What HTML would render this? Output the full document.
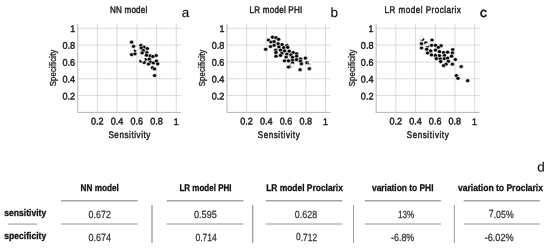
<!DOCTYPE html>
<html><head><meta charset="utf-8"><title>Model comparison</title>
<style>
html,body{margin:0;padding:0;background:#fff;}
svg{display:block;font-family:"Liberation Sans", sans-serif;}
</style></head><body>
<svg width="550" height="249" viewBox="0 0 550 249">
<rect width="550" height="249" fill="#fff"/>
<line x1="97.46" y1="24" x2="97.46" y2="112.4" stroke="#c4c4c4" stroke-width="0.6"/>
<line x1="117.17" y1="24" x2="117.17" y2="112.4" stroke="#c4c4c4" stroke-width="0.6"/>
<line x1="136.88" y1="24" x2="136.88" y2="112.4" stroke="#c4c4c4" stroke-width="0.6"/>
<line x1="156.59" y1="24" x2="156.59" y2="112.4" stroke="#c4c4c4" stroke-width="0.6"/>
<line x1="176.3" y1="24" x2="176.3" y2="112.4" stroke="#c4c4c4" stroke-width="0.6"/>
<line x1="77.75" y1="28.3" x2="181.2" y2="28.3" stroke="#c4c4c4" stroke-width="0.6"/>
<line x1="77.75" y1="45.12" x2="181.2" y2="45.12" stroke="#c4c4c4" stroke-width="0.6"/>
<line x1="77.75" y1="61.94" x2="181.2" y2="61.94" stroke="#c4c4c4" stroke-width="0.6"/>
<line x1="77.75" y1="78.76" x2="181.2" y2="78.76" stroke="#c4c4c4" stroke-width="0.6"/>
<line x1="77.75" y1="95.58" x2="181.2" y2="95.58" stroke="#c4c4c4" stroke-width="0.6"/>
<line x1="77.75" y1="24" x2="77.75" y2="112.4" stroke="#b4b4b4" stroke-width="1"/>
<line x1="77.25" y1="112.4" x2="181.2" y2="112.4" stroke="#b4b4b4" stroke-width="1"/>
<text x="75.1" y="32.0" font-size="9.6" font-weight="normal" fill="#222" stroke="#222" stroke-width="0.45" text-anchor="end" textLength="4.9" lengthAdjust="spacingAndGlyphs" transform="rotate(0.03 75.1 32.0)">1</text>
<text x="75.1" y="48.85" font-size="9.6" font-weight="normal" fill="#222" stroke="#222" stroke-width="0.45" text-anchor="end" textLength="12.6" lengthAdjust="spacingAndGlyphs" transform="rotate(0.03 75.1 48.85)">0.8</text>
<text x="75.1" y="65.7" font-size="9.6" font-weight="normal" fill="#222" stroke="#222" stroke-width="0.45" text-anchor="end" textLength="12.6" lengthAdjust="spacingAndGlyphs" transform="rotate(0.03 75.1 65.7)">0.6</text>
<text x="75.1" y="82.55" font-size="9.6" font-weight="normal" fill="#222" stroke="#222" stroke-width="0.45" text-anchor="end" textLength="12.6" lengthAdjust="spacingAndGlyphs" transform="rotate(0.03 75.1 82.55)">0.4</text>
<text x="75.1" y="99.4" font-size="9.6" font-weight="normal" fill="#222" stroke="#222" stroke-width="0.45" text-anchor="end" textLength="12.6" lengthAdjust="spacingAndGlyphs" transform="rotate(0.03 75.1 99.4)">0.2</text>
<text x="97.36" y="124.6" font-size="9.6" font-weight="normal" fill="#222" stroke="#222" stroke-width="0.45" text-anchor="middle" textLength="12.6" lengthAdjust="spacingAndGlyphs" transform="rotate(0.03 97.36 124.6)">0.2</text>
<text x="117.07" y="124.6" font-size="9.6" font-weight="normal" fill="#222" stroke="#222" stroke-width="0.45" text-anchor="middle" textLength="12.6" lengthAdjust="spacingAndGlyphs" transform="rotate(0.03 117.07 124.6)">0.4</text>
<text x="136.78" y="124.6" font-size="9.6" font-weight="normal" fill="#222" stroke="#222" stroke-width="0.45" text-anchor="middle" textLength="12.6" lengthAdjust="spacingAndGlyphs" transform="rotate(0.03 136.78 124.6)">0.6</text>
<text x="156.49" y="124.6" font-size="9.6" font-weight="normal" fill="#222" stroke="#222" stroke-width="0.45" text-anchor="middle" textLength="12.6" lengthAdjust="spacingAndGlyphs" transform="rotate(0.03 156.49 124.6)">0.8</text>
<text x="176.2" y="124.6" font-size="9.6" font-weight="normal" fill="#222" stroke="#222" stroke-width="0.45" text-anchor="middle" textLength="4.9" lengthAdjust="spacingAndGlyphs" transform="rotate(0.03 176.2 124.6)">1</text>
<text transform="translate(109.9 13) rotate(0.03) scale(0.84 1)" font-size="9.6" font-weight="normal" fill="#222" stroke="#222" stroke-width="0.45" text-anchor="start" textLength="44.52" lengthAdjust="spacing">NN model</text>
<text transform="translate(108.39999999999999 137.9) rotate(0.03) scale(0.84 1)" font-size="9.6" font-weight="normal" fill="#222" stroke="#222" stroke-width="0.45" text-anchor="start" textLength="50.0" lengthAdjust="spacing">Sensitivity</text>
<text transform="translate(56.2 86.2) rotate(-90) scale(0.8 1)" font-size="9.6" font-weight="normal" fill="#222" stroke="#222" stroke-width="0.35" text-anchor="start" textLength="45.75" lengthAdjust="spacing">Specificity</text>
<text x="181.8" y="16.9" font-size="13.5" font-weight="normal" fill="#111" stroke="#111" stroke-width="0.15" text-anchor="start" transform="rotate(0.03 181.8 16.9)">a</text>
<ellipse cx="131.6" cy="42.2" rx="2.05" ry="1.85" fill="#000" stroke="#fff" stroke-width="0.5"/>
<ellipse cx="133.6" cy="46.4" rx="2.05" ry="1.85" fill="#000" stroke="#fff" stroke-width="0.5"/>
<ellipse cx="140.9" cy="45.4" rx="2.05" ry="1.85" fill="#000" stroke="#fff" stroke-width="0.5"/>
<ellipse cx="144.1" cy="47.2" rx="2.05" ry="1.85" fill="#000" stroke="#fff" stroke-width="0.5"/>
<ellipse cx="147.3" cy="48.6" rx="2.05" ry="1.85" fill="#000" stroke="#fff" stroke-width="0.5"/>
<ellipse cx="141.3" cy="48" rx="2.05" ry="1.85" fill="#000" stroke="#fff" stroke-width="0.5"/>
<ellipse cx="143.3" cy="50.5" rx="2.05" ry="1.85" fill="#000" stroke="#fff" stroke-width="0.5"/>
<ellipse cx="142.1" cy="52.9" rx="2.05" ry="1.85" fill="#000" stroke="#fff" stroke-width="0.5"/>
<ellipse cx="146.9" cy="52.5" rx="2.05" ry="1.85" fill="#000" stroke="#fff" stroke-width="0.5"/>
<ellipse cx="131.6" cy="54.6" rx="2.05" ry="1.85" fill="#000" stroke="#fff" stroke-width="0.5"/>
<ellipse cx="135" cy="53.8" rx="2.05" ry="1.85" fill="#000" stroke="#fff" stroke-width="0.5"/>
<ellipse cx="135.6" cy="50.5" rx="2.05" ry="1.85" fill="#000" stroke="#fff" stroke-width="0.5"/>
<ellipse cx="156.1" cy="55.5" rx="2.05" ry="1.85" fill="#000" stroke="#fff" stroke-width="0.5"/>
<ellipse cx="150.1" cy="55.8" rx="2.05" ry="1.85" fill="#000" stroke="#fff" stroke-width="0.5"/>
<ellipse cx="152.9" cy="56.5" rx="2.05" ry="1.85" fill="#000" stroke="#fff" stroke-width="0.5"/>
<ellipse cx="146.5" cy="55.2" rx="2.05" ry="1.85" fill="#000" stroke="#fff" stroke-width="0.5"/>
<ellipse cx="145.3" cy="59.6" rx="2.05" ry="1.85" fill="#000" stroke="#fff" stroke-width="0.5"/>
<ellipse cx="149.3" cy="59.2" rx="2.05" ry="1.85" fill="#000" stroke="#fff" stroke-width="0.5"/>
<ellipse cx="144.1" cy="62.4" rx="2.05" ry="1.85" fill="#000" stroke="#fff" stroke-width="0.5"/>
<ellipse cx="140.9" cy="61.1" rx="2.05" ry="1.85" fill="#000" stroke="#fff" stroke-width="0.5"/>
<ellipse cx="150.5" cy="62" rx="2.05" ry="1.85" fill="#000" stroke="#fff" stroke-width="0.5"/>
<ellipse cx="148.5" cy="64.1" rx="2.05" ry="1.85" fill="#000" stroke="#fff" stroke-width="0.5"/>
<ellipse cx="153.3" cy="62.9" rx="2.05" ry="1.85" fill="#000" stroke="#fff" stroke-width="0.5"/>
<ellipse cx="156.5" cy="61.1" rx="2.05" ry="1.85" fill="#000" stroke="#fff" stroke-width="0.5"/>
<ellipse cx="157.7" cy="63.8" rx="2.05" ry="1.85" fill="#000" stroke="#fff" stroke-width="0.5"/>
<ellipse cx="152.5" cy="67.7" rx="2.05" ry="1.85" fill="#000" stroke="#fff" stroke-width="0.5"/>
<ellipse cx="154.5" cy="68.9" rx="2.05" ry="1.85" fill="#000" stroke="#fff" stroke-width="0.5"/>
<ellipse cx="154.6" cy="75.5" rx="2.05" ry="1.85" fill="#000" stroke="#fff" stroke-width="0.5"/>
<ellipse cx="136.5" cy="48.5" rx="1.95" ry="1.7" fill="#fff" stroke="#cfcfcf" stroke-width="0.45"/>
<ellipse cx="138.2" cy="51.5" rx="1.95" ry="1.7" fill="#fff" stroke="#cfcfcf" stroke-width="0.45"/>
<ellipse cx="138.8" cy="55" rx="1.95" ry="1.7" fill="#fff" stroke="#cfcfcf" stroke-width="0.45"/>
<ellipse cx="140.5" cy="57.7" rx="1.95" ry="1.7" fill="#fff" stroke="#cfcfcf" stroke-width="0.45"/>
<ellipse cx="142.8" cy="59.8" rx="1.95" ry="1.7" fill="#fff" stroke="#cfcfcf" stroke-width="0.45"/>
<line x1="246.71" y1="24" x2="246.71" y2="112.4" stroke="#c4c4c4" stroke-width="0.6"/>
<line x1="266.42" y1="24" x2="266.42" y2="112.4" stroke="#c4c4c4" stroke-width="0.6"/>
<line x1="286.13" y1="24" x2="286.13" y2="112.4" stroke="#c4c4c4" stroke-width="0.6"/>
<line x1="305.84" y1="24" x2="305.84" y2="112.4" stroke="#c4c4c4" stroke-width="0.6"/>
<line x1="325.55" y1="24" x2="325.55" y2="112.4" stroke="#c4c4c4" stroke-width="0.6"/>
<line x1="227.0" y1="28.3" x2="330.45" y2="28.3" stroke="#c4c4c4" stroke-width="0.6"/>
<line x1="227.0" y1="45.12" x2="330.45" y2="45.12" stroke="#c4c4c4" stroke-width="0.6"/>
<line x1="227.0" y1="61.94" x2="330.45" y2="61.94" stroke="#c4c4c4" stroke-width="0.6"/>
<line x1="227.0" y1="78.76" x2="330.45" y2="78.76" stroke="#c4c4c4" stroke-width="0.6"/>
<line x1="227.0" y1="95.58" x2="330.45" y2="95.58" stroke="#c4c4c4" stroke-width="0.6"/>
<line x1="227.0" y1="24" x2="227.0" y2="112.4" stroke="#b4b4b4" stroke-width="1"/>
<line x1="226.5" y1="112.4" x2="330.45" y2="112.4" stroke="#b4b4b4" stroke-width="1"/>
<text x="224.35" y="32.0" font-size="9.6" font-weight="normal" fill="#222" stroke="#222" stroke-width="0.45" text-anchor="end" textLength="4.9" lengthAdjust="spacingAndGlyphs" transform="rotate(0.03 224.35 32.0)">1</text>
<text x="224.35" y="48.85" font-size="9.6" font-weight="normal" fill="#222" stroke="#222" stroke-width="0.45" text-anchor="end" textLength="12.6" lengthAdjust="spacingAndGlyphs" transform="rotate(0.03 224.35 48.85)">0.8</text>
<text x="224.35" y="65.7" font-size="9.6" font-weight="normal" fill="#222" stroke="#222" stroke-width="0.45" text-anchor="end" textLength="12.6" lengthAdjust="spacingAndGlyphs" transform="rotate(0.03 224.35 65.7)">0.6</text>
<text x="224.35" y="82.55" font-size="9.6" font-weight="normal" fill="#222" stroke="#222" stroke-width="0.45" text-anchor="end" textLength="12.6" lengthAdjust="spacingAndGlyphs" transform="rotate(0.03 224.35 82.55)">0.4</text>
<text x="224.35" y="99.4" font-size="9.6" font-weight="normal" fill="#222" stroke="#222" stroke-width="0.45" text-anchor="end" textLength="12.6" lengthAdjust="spacingAndGlyphs" transform="rotate(0.03 224.35 99.4)">0.2</text>
<text x="246.61" y="124.6" font-size="9.6" font-weight="normal" fill="#222" stroke="#222" stroke-width="0.45" text-anchor="middle" textLength="12.6" lengthAdjust="spacingAndGlyphs" transform="rotate(0.03 246.61 124.6)">0.2</text>
<text x="266.32" y="124.6" font-size="9.6" font-weight="normal" fill="#222" stroke="#222" stroke-width="0.45" text-anchor="middle" textLength="12.6" lengthAdjust="spacingAndGlyphs" transform="rotate(0.03 266.32 124.6)">0.4</text>
<text x="286.03" y="124.6" font-size="9.6" font-weight="normal" fill="#222" stroke="#222" stroke-width="0.45" text-anchor="middle" textLength="12.6" lengthAdjust="spacingAndGlyphs" transform="rotate(0.03 286.03 124.6)">0.6</text>
<text x="305.74" y="124.6" font-size="9.6" font-weight="normal" fill="#222" stroke="#222" stroke-width="0.45" text-anchor="middle" textLength="12.6" lengthAdjust="spacingAndGlyphs" transform="rotate(0.03 305.74 124.6)">0.8</text>
<text x="325.45" y="124.6" font-size="9.6" font-weight="normal" fill="#222" stroke="#222" stroke-width="0.45" text-anchor="middle" textLength="4.9" lengthAdjust="spacingAndGlyphs" transform="rotate(0.03 325.45 124.6)">1</text>
<text transform="translate(249.5 13) rotate(0.03) scale(0.84 1)" font-size="9.6" font-weight="normal" fill="#222" stroke="#222" stroke-width="0.45" text-anchor="start" textLength="62.86" lengthAdjust="spacing">LR model PHI</text>
<text transform="translate(257.70000000000005 137.9) rotate(0.03) scale(0.84 1)" font-size="9.6" font-weight="normal" fill="#222" stroke="#222" stroke-width="0.45" text-anchor="start" textLength="50.0" lengthAdjust="spacing">Sensitivity</text>
<text transform="translate(205.45 86.2) rotate(-90) scale(0.8 1)" font-size="9.6" font-weight="normal" fill="#222" stroke="#222" stroke-width="0.35" text-anchor="start" textLength="45.75" lengthAdjust="spacing">Specificity</text>
<text x="330.6" y="16.9" font-size="13.5" font-weight="normal" fill="#111" stroke="#111" stroke-width="0.15" text-anchor="start" transform="rotate(0.03 330.6 16.9)">b</text>
<ellipse cx="265.7" cy="49.3" rx="2.05" ry="1.85" fill="#000" stroke="#fff" stroke-width="0.5"/>
<ellipse cx="268.4" cy="40" rx="2.05" ry="1.85" fill="#000" stroke="#fff" stroke-width="0.5"/>
<ellipse cx="272.5" cy="37.2" rx="2.05" ry="1.85" fill="#000" stroke="#fff" stroke-width="0.5"/>
<ellipse cx="276" cy="37.7" rx="2.05" ry="1.85" fill="#000" stroke="#fff" stroke-width="0.5"/>
<ellipse cx="278.6" cy="39.3" rx="2.05" ry="1.85" fill="#000" stroke="#fff" stroke-width="0.5"/>
<ellipse cx="270.9" cy="42" rx="2.05" ry="1.85" fill="#000" stroke="#fff" stroke-width="0.5"/>
<ellipse cx="274.1" cy="41.6" rx="2.05" ry="1.85" fill="#000" stroke="#fff" stroke-width="0.5"/>
<ellipse cx="278.1" cy="43.7" rx="2.05" ry="1.85" fill="#000" stroke="#fff" stroke-width="0.5"/>
<ellipse cx="274.1" cy="45.3" rx="2.05" ry="1.85" fill="#000" stroke="#fff" stroke-width="0.5"/>
<ellipse cx="270.5" cy="46.5" rx="2.05" ry="1.85" fill="#000" stroke="#fff" stroke-width="0.5"/>
<ellipse cx="282.1" cy="44.5" rx="2.05" ry="1.85" fill="#000" stroke="#fff" stroke-width="0.5"/>
<ellipse cx="286.9" cy="45.6" rx="2.05" ry="1.85" fill="#000" stroke="#fff" stroke-width="0.5"/>
<ellipse cx="278.9" cy="46.9" rx="2.05" ry="1.85" fill="#000" stroke="#fff" stroke-width="0.5"/>
<ellipse cx="283.7" cy="47.7" rx="2.05" ry="1.85" fill="#000" stroke="#fff" stroke-width="0.5"/>
<ellipse cx="287.7" cy="47.3" rx="2.05" ry="1.85" fill="#000" stroke="#fff" stroke-width="0.5"/>
<ellipse cx="275.7" cy="50.1" rx="2.05" ry="1.85" fill="#000" stroke="#fff" stroke-width="0.5"/>
<ellipse cx="280.5" cy="50.1" rx="2.05" ry="1.85" fill="#000" stroke="#fff" stroke-width="0.5"/>
<ellipse cx="284.5" cy="50.9" rx="2.05" ry="1.85" fill="#000" stroke="#fff" stroke-width="0.5"/>
<ellipse cx="289.3" cy="51.2" rx="2.05" ry="1.85" fill="#000" stroke="#fff" stroke-width="0.5"/>
<ellipse cx="293.3" cy="52.5" rx="2.05" ry="1.85" fill="#000" stroke="#fff" stroke-width="0.5"/>
<ellipse cx="296.6" cy="53.8" rx="2.05" ry="1.85" fill="#000" stroke="#fff" stroke-width="0.5"/>
<ellipse cx="276" cy="52.5" rx="2.05" ry="1.85" fill="#000" stroke="#fff" stroke-width="0.5"/>
<ellipse cx="281.8" cy="53.3" rx="2.05" ry="1.85" fill="#000" stroke="#fff" stroke-width="0.5"/>
<ellipse cx="286.9" cy="54.1" rx="2.05" ry="1.85" fill="#000" stroke="#fff" stroke-width="0.5"/>
<ellipse cx="290.9" cy="54.9" rx="2.05" ry="1.85" fill="#000" stroke="#fff" stroke-width="0.5"/>
<ellipse cx="276" cy="56.2" rx="2.05" ry="1.85" fill="#000" stroke="#fff" stroke-width="0.5"/>
<ellipse cx="280.5" cy="55.4" rx="2.05" ry="1.85" fill="#000" stroke="#fff" stroke-width="0.5"/>
<ellipse cx="286.1" cy="57" rx="2.05" ry="1.85" fill="#000" stroke="#fff" stroke-width="0.5"/>
<ellipse cx="292.5" cy="57.3" rx="2.05" ry="1.85" fill="#000" stroke="#fff" stroke-width="0.5"/>
<ellipse cx="296.6" cy="56.2" rx="2.05" ry="1.85" fill="#000" stroke="#fff" stroke-width="0.5"/>
<ellipse cx="300.6" cy="58.9" rx="2.05" ry="1.85" fill="#000" stroke="#fff" stroke-width="0.5"/>
<ellipse cx="305.4" cy="58.1" rx="2.05" ry="1.85" fill="#000" stroke="#fff" stroke-width="0.5"/>
<ellipse cx="284.5" cy="60.8" rx="2.05" ry="1.85" fill="#000" stroke="#fff" stroke-width="0.5"/>
<ellipse cx="288.5" cy="60.8" rx="2.05" ry="1.85" fill="#000" stroke="#fff" stroke-width="0.5"/>
<ellipse cx="292.5" cy="60.2" rx="2.05" ry="1.85" fill="#000" stroke="#fff" stroke-width="0.5"/>
<ellipse cx="296.6" cy="59.7" rx="2.05" ry="1.85" fill="#000" stroke="#fff" stroke-width="0.5"/>
<ellipse cx="300.6" cy="61.3" rx="2.05" ry="1.85" fill="#000" stroke="#fff" stroke-width="0.5"/>
<ellipse cx="292.5" cy="62.9" rx="2.05" ry="1.85" fill="#000" stroke="#fff" stroke-width="0.5"/>
<ellipse cx="301.4" cy="63.7" rx="2.05" ry="1.85" fill="#000" stroke="#fff" stroke-width="0.5"/>
<ellipse cx="307" cy="62.7" rx="2.05" ry="1.85" fill="#000" stroke="#fff" stroke-width="0.5"/>
<ellipse cx="309.4" cy="62.7" rx="2.05" ry="1.85" fill="#000" stroke="#fff" stroke-width="0.5"/>
<ellipse cx="291" cy="65.8" rx="2.05" ry="1.85" fill="#000" stroke="#fff" stroke-width="0.5"/>
<ellipse cx="288.5" cy="67.1" rx="2.05" ry="1.85" fill="#000" stroke="#fff" stroke-width="0.5"/>
<ellipse cx="300.1" cy="69.7" rx="2.05" ry="1.85" fill="#000" stroke="#fff" stroke-width="0.5"/>
<ellipse cx="309.4" cy="68.7" rx="2.05" ry="1.85" fill="#000" stroke="#fff" stroke-width="0.5"/>
<ellipse cx="310.6" cy="62.4" rx="1.95" ry="1.7" fill="#fff" stroke="#cfcfcf" stroke-width="0.45"/>
<ellipse cx="292.3" cy="65.3" rx="1.95" ry="1.7" fill="#fff" stroke="#cfcfcf" stroke-width="0.45"/>
<line x1="395.83" y1="24" x2="395.83" y2="112.4" stroke="#c4c4c4" stroke-width="0.6"/>
<line x1="415.54" y1="24" x2="415.54" y2="112.4" stroke="#c4c4c4" stroke-width="0.6"/>
<line x1="435.25" y1="24" x2="435.25" y2="112.4" stroke="#c4c4c4" stroke-width="0.6"/>
<line x1="454.96" y1="24" x2="454.96" y2="112.4" stroke="#c4c4c4" stroke-width="0.6"/>
<line x1="474.67" y1="24" x2="474.67" y2="112.4" stroke="#c4c4c4" stroke-width="0.6"/>
<line x1="376.12" y1="28.3" x2="479.57" y2="28.3" stroke="#c4c4c4" stroke-width="0.6"/>
<line x1="376.12" y1="45.12" x2="479.57" y2="45.12" stroke="#c4c4c4" stroke-width="0.6"/>
<line x1="376.12" y1="61.94" x2="479.57" y2="61.94" stroke="#c4c4c4" stroke-width="0.6"/>
<line x1="376.12" y1="78.76" x2="479.57" y2="78.76" stroke="#c4c4c4" stroke-width="0.6"/>
<line x1="376.12" y1="95.58" x2="479.57" y2="95.58" stroke="#c4c4c4" stroke-width="0.6"/>
<line x1="376.12" y1="24" x2="376.12" y2="112.4" stroke="#b4b4b4" stroke-width="1"/>
<line x1="375.62" y1="112.4" x2="479.57" y2="112.4" stroke="#b4b4b4" stroke-width="1"/>
<text x="373.47" y="32.0" font-size="9.6" font-weight="normal" fill="#222" stroke="#222" stroke-width="0.45" text-anchor="end" textLength="4.9" lengthAdjust="spacingAndGlyphs" transform="rotate(0.03 373.47 32.0)">1</text>
<text x="373.47" y="48.85" font-size="9.6" font-weight="normal" fill="#222" stroke="#222" stroke-width="0.45" text-anchor="end" textLength="12.6" lengthAdjust="spacingAndGlyphs" transform="rotate(0.03 373.47 48.85)">0.8</text>
<text x="373.47" y="65.7" font-size="9.6" font-weight="normal" fill="#222" stroke="#222" stroke-width="0.45" text-anchor="end" textLength="12.6" lengthAdjust="spacingAndGlyphs" transform="rotate(0.03 373.47 65.7)">0.6</text>
<text x="373.47" y="82.55" font-size="9.6" font-weight="normal" fill="#222" stroke="#222" stroke-width="0.45" text-anchor="end" textLength="12.6" lengthAdjust="spacingAndGlyphs" transform="rotate(0.03 373.47 82.55)">0.4</text>
<text x="373.47" y="99.4" font-size="9.6" font-weight="normal" fill="#222" stroke="#222" stroke-width="0.45" text-anchor="end" textLength="12.6" lengthAdjust="spacingAndGlyphs" transform="rotate(0.03 373.47 99.4)">0.2</text>
<text x="395.73" y="124.6" font-size="9.6" font-weight="normal" fill="#222" stroke="#222" stroke-width="0.45" text-anchor="middle" textLength="12.6" lengthAdjust="spacingAndGlyphs" transform="rotate(0.03 395.73 124.6)">0.2</text>
<text x="415.44" y="124.6" font-size="9.6" font-weight="normal" fill="#222" stroke="#222" stroke-width="0.45" text-anchor="middle" textLength="12.6" lengthAdjust="spacingAndGlyphs" transform="rotate(0.03 415.44 124.6)">0.4</text>
<text x="435.15" y="124.6" font-size="9.6" font-weight="normal" fill="#222" stroke="#222" stroke-width="0.45" text-anchor="middle" textLength="12.6" lengthAdjust="spacingAndGlyphs" transform="rotate(0.03 435.15 124.6)">0.6</text>
<text x="454.86" y="124.6" font-size="9.6" font-weight="normal" fill="#222" stroke="#222" stroke-width="0.45" text-anchor="middle" textLength="12.6" lengthAdjust="spacingAndGlyphs" transform="rotate(0.03 454.86 124.6)">0.8</text>
<text x="474.57" y="124.6" font-size="9.6" font-weight="normal" fill="#222" stroke="#222" stroke-width="0.45" text-anchor="middle" textLength="4.9" lengthAdjust="spacingAndGlyphs" transform="rotate(0.03 474.57 124.6)">1</text>
<text transform="translate(384.6 13) rotate(0.03) scale(0.84 1)" font-size="9.6" font-weight="normal" fill="#222" stroke="#222" stroke-width="0.45" text-anchor="start" textLength="90.83" lengthAdjust="spacing">LR model Proclarix</text>
<text transform="translate(406.70000000000005 137.9) rotate(0.03) scale(0.84 1)" font-size="9.6" font-weight="normal" fill="#222" stroke="#222" stroke-width="0.45" text-anchor="start" textLength="50.0" lengthAdjust="spacing">Sensitivity</text>
<text transform="translate(354.57 86.2) rotate(-90) scale(0.8 1)" font-size="9.6" font-weight="normal" fill="#222" stroke="#222" stroke-width="0.35" text-anchor="start" textLength="45.75" lengthAdjust="spacing">Specificity</text>
<text x="480" y="16.9" font-size="13.5" font-weight="normal" fill="#111" stroke="#111" stroke-width="0.55" text-anchor="start" transform="rotate(0.03 480 16.9)">c</text>
<ellipse cx="422.4" cy="39.3" rx="2.05" ry="1.85" fill="#000" stroke="#fff" stroke-width="0.5"/>
<ellipse cx="421.5" cy="43.7" rx="2.05" ry="1.85" fill="#000" stroke="#fff" stroke-width="0.5"/>
<ellipse cx="421.5" cy="48" rx="2.05" ry="1.85" fill="#000" stroke="#fff" stroke-width="0.5"/>
<ellipse cx="432" cy="40" rx="2.05" ry="1.85" fill="#000" stroke="#fff" stroke-width="0.5"/>
<ellipse cx="425.9" cy="42.9" rx="2.05" ry="1.85" fill="#000" stroke="#fff" stroke-width="0.5"/>
<ellipse cx="431.5" cy="45.3" rx="2.05" ry="1.85" fill="#000" stroke="#fff" stroke-width="0.5"/>
<ellipse cx="435.5" cy="45.3" rx="2.05" ry="1.85" fill="#000" stroke="#fff" stroke-width="0.5"/>
<ellipse cx="441.1" cy="45.7" rx="2.05" ry="1.85" fill="#000" stroke="#fff" stroke-width="0.5"/>
<ellipse cx="427.5" cy="46.1" rx="2.05" ry="1.85" fill="#000" stroke="#fff" stroke-width="0.5"/>
<ellipse cx="426.7" cy="49.3" rx="2.05" ry="1.85" fill="#000" stroke="#fff" stroke-width="0.5"/>
<ellipse cx="430.7" cy="50.9" rx="2.05" ry="1.85" fill="#000" stroke="#fff" stroke-width="0.5"/>
<ellipse cx="435.5" cy="50.1" rx="2.05" ry="1.85" fill="#000" stroke="#fff" stroke-width="0.5"/>
<ellipse cx="438.3" cy="47.3" rx="2.05" ry="1.85" fill="#000" stroke="#fff" stroke-width="0.5"/>
<ellipse cx="439.5" cy="51.7" rx="2.05" ry="1.85" fill="#000" stroke="#fff" stroke-width="0.5"/>
<ellipse cx="443.6" cy="52.5" rx="2.05" ry="1.85" fill="#000" stroke="#fff" stroke-width="0.5"/>
<ellipse cx="447.6" cy="52.2" rx="2.05" ry="1.85" fill="#000" stroke="#fff" stroke-width="0.5"/>
<ellipse cx="452.7" cy="49.6" rx="2.05" ry="1.85" fill="#000" stroke="#fff" stroke-width="0.5"/>
<ellipse cx="452.4" cy="52.8" rx="2.05" ry="1.85" fill="#000" stroke="#fff" stroke-width="0.5"/>
<ellipse cx="427.5" cy="53" rx="2.05" ry="1.85" fill="#000" stroke="#fff" stroke-width="0.5"/>
<ellipse cx="431.5" cy="54.9" rx="2.05" ry="1.85" fill="#000" stroke="#fff" stroke-width="0.5"/>
<ellipse cx="435.5" cy="55.4" rx="2.05" ry="1.85" fill="#000" stroke="#fff" stroke-width="0.5"/>
<ellipse cx="439.5" cy="55.7" rx="2.05" ry="1.85" fill="#000" stroke="#fff" stroke-width="0.5"/>
<ellipse cx="444.4" cy="55.4" rx="2.05" ry="1.85" fill="#000" stroke="#fff" stroke-width="0.5"/>
<ellipse cx="451.6" cy="56.2" rx="2.05" ry="1.85" fill="#000" stroke="#fff" stroke-width="0.5"/>
<ellipse cx="436.3" cy="58.6" rx="2.05" ry="1.85" fill="#000" stroke="#fff" stroke-width="0.5"/>
<ellipse cx="440.3" cy="58.9" rx="2.05" ry="1.85" fill="#000" stroke="#fff" stroke-width="0.5"/>
<ellipse cx="444.4" cy="58.6" rx="2.05" ry="1.85" fill="#000" stroke="#fff" stroke-width="0.5"/>
<ellipse cx="447.6" cy="58.1" rx="2.05" ry="1.85" fill="#000" stroke="#fff" stroke-width="0.5"/>
<ellipse cx="455.3" cy="59.5" rx="2.05" ry="1.85" fill="#000" stroke="#fff" stroke-width="0.5"/>
<ellipse cx="440.7" cy="61.6" rx="2.05" ry="1.85" fill="#000" stroke="#fff" stroke-width="0.5"/>
<ellipse cx="448.4" cy="61.3" rx="2.05" ry="1.85" fill="#000" stroke="#fff" stroke-width="0.5"/>
<ellipse cx="452.4" cy="64.2" rx="2.05" ry="1.85" fill="#000" stroke="#fff" stroke-width="0.5"/>
<ellipse cx="446" cy="64.2" rx="2.05" ry="1.85" fill="#000" stroke="#fff" stroke-width="0.5"/>
<ellipse cx="443.6" cy="65.6" rx="2.05" ry="1.85" fill="#000" stroke="#fff" stroke-width="0.5"/>
<ellipse cx="461.2" cy="66.6" rx="2.05" ry="1.85" fill="#000" stroke="#fff" stroke-width="0.5"/>
<ellipse cx="456.4" cy="75.6" rx="2.05" ry="1.85" fill="#000" stroke="#fff" stroke-width="0.5"/>
<ellipse cx="458" cy="78.3" rx="2.05" ry="1.85" fill="#000" stroke="#fff" stroke-width="0.5"/>
<ellipse cx="467.7" cy="80.7" rx="2.05" ry="1.85" fill="#000" stroke="#fff" stroke-width="0.5"/>
<ellipse cx="421.2" cy="38.0" rx="1.95" ry="1.7" fill="#fff" stroke="#cfcfcf" stroke-width="0.45"/>
<ellipse cx="427.2" cy="44.6" rx="1.95" ry="1.7" fill="#fff" stroke="#cfcfcf" stroke-width="0.45"/>
<text x="537.3" y="171.4" font-size="13.5" font-weight="normal" fill="#111" stroke="#111" stroke-width="0.15" text-anchor="start" transform="rotate(0.03 537.3 171.4)">d</text>
<line x1="61" y1="200.7" x2="137.7" y2="200.7" stroke="#a4a4a4" stroke-width="1.45"/>
<line x1="61" y1="224.1" x2="137.7" y2="224.1" stroke="#b9b9b9" stroke-width="1.5"/>
<text x="80.6" y="191.4" font-size="9.7" font-weight="bold" fill="#111" stroke="#111" stroke-width="0.3" text-anchor="start" textLength="38.2" lengthAdjust="spacingAndGlyphs" transform="rotate(0.03 80.6 191.4)">NN model</text>
<text x="88.6" y="217.5" font-size="10.4" font-weight="normal" fill="#333" stroke="#333" stroke-width="0.25" text-anchor="start" textLength="22.3" lengthAdjust="spacingAndGlyphs" transform="rotate(0.03 88.6 217.5)">0.672</text>
<text x="88.6" y="240.5" font-size="10.4" font-weight="normal" fill="#333" stroke="#333" stroke-width="0.25" text-anchor="start" textLength="22.5" lengthAdjust="spacingAndGlyphs" transform="rotate(0.03 88.6 240.5)">0.674</text>
<line x1="166.7" y1="200.7" x2="243.4" y2="200.7" stroke="#a4a4a4" stroke-width="1.45"/>
<line x1="166.7" y1="224.1" x2="243.4" y2="224.1" stroke="#b9b9b9" stroke-width="1.5"/>
<text x="179.4" y="191.4" font-size="9.7" font-weight="bold" fill="#111" stroke="#111" stroke-width="0.3" text-anchor="start" textLength="52.2" lengthAdjust="spacingAndGlyphs" transform="rotate(0.03 179.4 191.4)">LR model PHI</text>
<text x="194.0" y="217.5" font-size="10.4" font-weight="normal" fill="#333" stroke="#333" stroke-width="0.25" text-anchor="start" textLength="22.8" lengthAdjust="spacingAndGlyphs" transform="rotate(0.03 194.0 217.5)">0.595</text>
<text x="195.4" y="240.5" font-size="10.4" font-weight="normal" fill="#333" stroke="#333" stroke-width="0.25" text-anchor="start" textLength="21.4" lengthAdjust="spacingAndGlyphs" transform="rotate(0.03 195.4 240.5)">0.714</text>
<line x1="265.7" y1="200.7" x2="342.4" y2="200.7" stroke="#a4a4a4" stroke-width="1.45"/>
<line x1="265.7" y1="224.1" x2="342.4" y2="224.1" stroke="#b9b9b9" stroke-width="1.5"/>
<text x="266.2" y="191.4" font-size="9.7" font-weight="bold" fill="#111" stroke="#111" stroke-width="0.3" text-anchor="start" textLength="76.7" lengthAdjust="spacingAndGlyphs" transform="rotate(0.03 266.2 191.4)">LR model Proclarix</text>
<text x="294.8" y="217.5" font-size="10.4" font-weight="normal" fill="#333" stroke="#333" stroke-width="0.25" text-anchor="start" textLength="22.3" lengthAdjust="spacingAndGlyphs" transform="rotate(0.03 294.8 217.5)">0.628</text>
<text x="296.1" y="240.5" font-size="10.4" font-weight="normal" fill="#333" stroke="#333" stroke-width="0.25" text-anchor="start" textLength="21.0" lengthAdjust="spacingAndGlyphs" transform="rotate(0.03 296.1 240.5)">0.712</text>
<line x1="364.7" y1="200.7" x2="441" y2="200.7" stroke="#a4a4a4" stroke-width="1.45"/>
<line x1="364.7" y1="224.1" x2="441" y2="224.1" stroke="#b9b9b9" stroke-width="1.5"/>
<text x="372.0" y="191.4" font-size="9.7" font-weight="bold" fill="#111" stroke="#111" stroke-width="0.3" text-anchor="start" textLength="61.5" lengthAdjust="spacingAndGlyphs" transform="rotate(0.03 372.0 191.4)">variation to PHI</text>
<text x="398.1" y="217.5" font-size="10.4" font-weight="normal" fill="#333" stroke="#333" stroke-width="0.25" text-anchor="start" textLength="16.2" lengthAdjust="spacingAndGlyphs" transform="rotate(0.03 398.1 217.5)">13%</text>
<text x="391.0" y="240.5" font-size="10.4" font-weight="normal" fill="#333" stroke="#333" stroke-width="0.25" text-anchor="start" textLength="23.3" lengthAdjust="spacingAndGlyphs" transform="rotate(0.03 391.0 240.5)">-6.8%</text>
<line x1="463.7" y1="200.7" x2="539.8" y2="200.7" stroke="#a4a4a4" stroke-width="1.45"/>
<line x1="463.7" y1="224.1" x2="539.8" y2="224.1" stroke="#b9b9b9" stroke-width="1.5"/>
<text x="458.0" y="191.4" font-size="9.7" font-weight="bold" fill="#111" stroke="#111" stroke-width="0.3" text-anchor="start" textLength="85.0" lengthAdjust="spacingAndGlyphs" transform="rotate(0.03 458.0 191.4)">variation to Proclarix</text>
<text x="488.8" y="217.5" font-size="10.4" font-weight="normal" fill="#333" stroke="#333" stroke-width="0.25" text-anchor="start" textLength="24.9" lengthAdjust="spacingAndGlyphs" transform="rotate(0.03 488.8 217.5)">7.05%</text>
<text x="484.7" y="240.5" font-size="10.4" font-weight="normal" fill="#333" stroke="#333" stroke-width="0.25" text-anchor="start" textLength="29.0" lengthAdjust="spacingAndGlyphs" transform="rotate(0.03 484.7 240.5)">-6.02%</text>
<line x1="8" y1="224.1" x2="37.3" y2="224.1" stroke="#b9b9b9" stroke-width="1.5"/>
<line x1="152.0" y1="205.1" x2="152.0" y2="243" stroke="#9e9e9e" stroke-width="1.4"/>
<line x1="252.7" y1="205.1" x2="252.7" y2="243" stroke="#9e9e9e" stroke-width="1.3"/>
<line x1="353.5" y1="205.1" x2="353.5" y2="243" stroke="#9e9e9e" stroke-width="1.05"/>
<line x1="454.3" y1="205.1" x2="454.3" y2="243" stroke="#9e9e9e" stroke-width="1.05"/>
<text x="4.3" y="216.1" font-size="9.7" font-weight="bold" fill="#111" stroke="#111" stroke-width="0.3" text-anchor="start" textLength="41.9" lengthAdjust="spacingAndGlyphs" transform="rotate(0.03 4.3 216.1)">sensitivity</text>
<text x="4.3" y="239" font-size="9.7" font-weight="bold" fill="#111" stroke="#111" stroke-width="0.3" text-anchor="start" textLength="41.9" lengthAdjust="spacingAndGlyphs" transform="rotate(0.03 4.3 239)">specificity</text>
</svg>
</body></html>
